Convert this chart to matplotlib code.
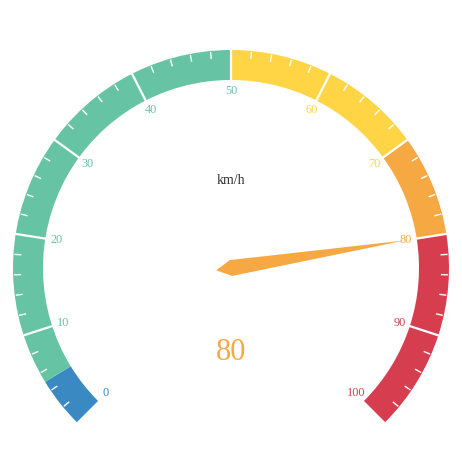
import numpy as np
import matplotlib
matplotlib.use("Agg")
import matplotlib.pyplot as plt
import matplotlib.patches as mpatches

# Gauge data
value = 80
vmin, vmax = 0, 100
unit = "km/h"
major_ticks = [0, 10, 20, 30, 40, 50, 60, 70, 80, 90, 100]
minor_per_major = 5
stop_fracs = [0.05, 0.5, 0.7, 0.8, 1.0]
stop_colors = ["#3a89c3", "#66c4a4", "#ffd546", "#f6a843", "#d63e50"]

W, H = 462, 468
cx, cy = 231, H - 268
r_out, band = 218, 30
start_deg, end_deg = 225, -45


def to_angle(v):
    frac = (v - vmin) / (vmax - vmin)
    return start_deg + (end_deg - start_deg) * frac


def color_at(v):
    frac = (v - vmin) / (vmax - vmin)
    for f, c in zip(stop_fracs, stop_colors):
        if frac <= f + 1e-9:
            return c
    return stop_colors[-1]


def polar(r, deg):
    a = np.radians(deg)
    return cx + r * np.cos(a), cy + r * np.sin(a)


fig = plt.figure(figsize=(W / 100, H / 100), dpi=100)
ax = fig.add_axes([0, 0, 1, 1])
ax.set_xlim(0, W)
ax.set_ylim(0, H)
ax.set_aspect("equal")
ax.axis("off")

# Colored band
prev = 0.0
for f, c in zip(stop_fracs, stop_colors):
    v0 = vmin + prev * (vmax - vmin)
    v1 = vmin + f * (vmax - vmin)
    ax.add_patch(mpatches.Wedge((cx, cy), r_out, to_angle(v1), to_angle(v0),
                                width=band, facecolor=c, edgecolor="none"))
    prev = f

# Split lines and minor ticks
step = (major_ticks[1] - major_ticks[0]) / minor_per_major
for t in major_ticks[1:-1]:
    a = to_angle(t)
    x0, y0 = polar(r_out - band - 1, a)
    x1, y1 = polar(r_out + 1, a)
    ax.plot([x0, x1], [y0, y1], color="white", lw=1.6, solid_capstyle="butt")
for t in major_ticks[:-1]:
    for k in range(1, minor_per_major):
        a = to_angle(t + k * step)
        x0, y0 = polar(r_out - 8, a)
        x1, y1 = polar(r_out - 1, a)
        ax.plot([x0, x1], [y0, y1], color="white", lw=1.0, solid_capstyle="butt")

# Tick labels
for t in major_ticks:
    x, y = polar(177, to_angle(t))
    ax.text(x, y, str(t), ha="center", va="center", fontsize=8.8,
            family="Liberation Serif", color=color_at(t))

# Pointer
a = np.radians(to_angle(value))
ux, uy = np.cos(a), np.sin(a)
px, py = -uy, ux
shape = [(-15, 0), (0, 8), (176, 0), (0, -8)]
pts = [(cx + s * ux + w * px, cy + s * uy + w * py) for s, w in shape]
ax.add_patch(mpatches.Polygon(pts, closed=True, facecolor=color_at(value),
                              edgecolor="none", zorder=5))

# Title and value
ax.text(cx, H - 180, unit, ha="center", va="center", fontsize=10,
        family="Liberation Serif", color="#333333")
ax.text(cx, H - 353, str(value), ha="center", va="center", fontsize=22,
        family="Liberation Serif", color=color_at(value))

fig.savefig("out.png", dpi=100)
